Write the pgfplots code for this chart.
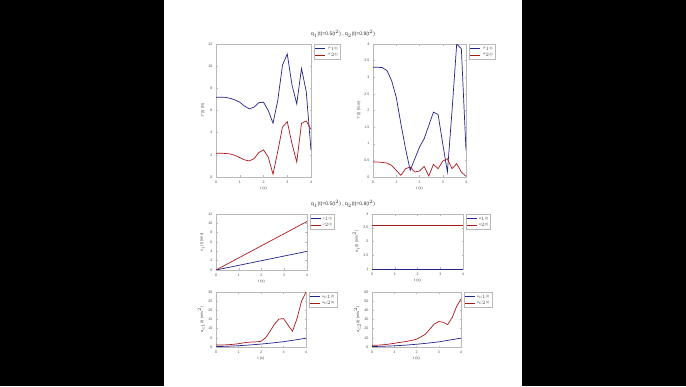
\documentclass[border=0pt]{standalone}
\usepackage{pgfplots}
\pgfplotsset{compat=1.18}
\usepackage{fontspec}
\setmainfont{Liberation Sans}
\definecolor{myblue}{RGB}{35,35,140}
\definecolor{myred}{RGB}{170,25,25}
\pgfplotsset{
  sub/.style={
    scale only axis,
    anchor=south west,
    xmin=0, xmax=4,
    xtick={0,1,2,3,4},
    tick align=inside,
    major tick length=1.5pt,
    axis line style={gray!55},
    every tick/.style={gray!55},
    tick label style={font=\fontsize{3.6}{4}\selectfont, text=gray!60!black},
    label style={font=\fontsize{3.8}{4.5}\selectfont, text=gray!60!black},
    xlabel={t (s)},
    xlabel style={yshift=3pt},
    ylabel style={yshift=-3pt},
    /pgf/number format/assume math mode=true,
    legend style={at={(1.03,1)}, anchor=north west, draw=gray!55,
      font=\fontsize{3.2}{3.6}\selectfont, inner sep=0.6pt, row sep=-1.5pt,
      legend cell align=left, text=gray!60!black},
    legend image code/.code={\draw[#1] (0pt,0pt) -- (10pt,0pt);},
    every axis plot/.append style={line width=0.7pt},
  }
}
\begin{document}
\begin{tikzpicture}
\useasboundingbox (0pt,0pt) rectangle (686pt,386pt);
\fill[black] (0pt,0pt) rectangle (686pt,386pt);
\fill[white] (164pt,0pt) rectangle (522pt,386pt);
\node[font=\fontsize{5}{6}\selectfont, text=black!80] at (343pt,352pt) {q$_1$(t)=0.5(t$^2$) , q$_2$(t)=0.8(t$^2$)};
\node[font=\fontsize{5}{6}\selectfont, text=black!80] at (343pt,182pt) {q$_1$(t)=0.5(t$^2$) , q$_2$(t)=0.8(t$^2$)};

% Plot 1
\begin{axis}[sub, at={(216pt,209pt)}, width=95pt, height=133pt,
  ymin=0, ymax=12, ytick={0,2,...,12}, ylabel={$\tau$(t) (N)}]
\addplot[myblue] coordinates {(0,7.2)(0.2,7.2)(0.4,7.18)(0.6,7.1)(0.8,6.95)(1.0,6.75)(1.2,6.4)(1.4,6.15)(1.6,6.3)(1.8,6.7)(2.0,6.75)(2.2,6.0)(2.4,4.85)(2.6,6.9)(2.8,10.1)(3.0,11.1)(3.2,8.3)(3.4,6.6)(3.6,9.8)(3.8,7.7)(4.0,2.4)};
\addplot[myred] coordinates {(0,2.15)(0.2,2.15)(0.4,2.12)(0.6,2.08)(0.8,1.95)(1.0,1.75)(1.2,1.55)(1.4,1.45)(1.6,1.65)(1.8,2.2)(2.0,2.45)(2.2,1.8)(2.4,0.25)(2.6,2.3)(2.8,4.5)(3.0,5.0)(3.2,3.0)(3.4,1.35)(3.6,4.85)(3.8,5.05)(4.0,4.3)};
\legend{$\tau_1$(t),$\tau_2$(t)}
\end{axis}

% Plot 2
\begin{axis}[sub, at={(373pt,209pt)}, width=93pt, height=133pt,
  ymin=0, ymax=4, ytick={0,0.5,...,4}, ylabel={$\tau$(t) (N.m)},
  yticklabel style={/pgf/number format/fixed}]
\addplot[myblue] coordinates {(0,3.3)(0.2,3.3)(0.4,3.29)(0.6,3.2)(0.8,2.9)(1.0,2.4)(1.2,1.6)(1.4,0.85)(1.6,0.2)(1.8,0.55)(2.0,0.9)(2.2,1.15)(2.4,1.55)(2.6,1.95)(2.8,1.88)(3.0,1.0)(3.2,0.15)(3.4,2.0)(3.6,4.0)(3.8,3.86)(4.0,0.8)};
\addplot[myred] coordinates {(0,0.45)(0.2,0.45)(0.4,0.44)(0.6,0.42)(0.8,0.35)(1.0,0.2)(1.2,0.05)(1.4,0.25)(1.6,0.3)(1.8,0.15)(2.0,0.18)(2.2,0.32)(2.4,0.03)(2.6,0.38)(2.8,0.25)(3.0,0.48)(3.2,0.55)(3.4,0.25)(3.6,0.4)(3.8,0.15)(4.0,0.02)};
\legend{$\tau_1$(t),$\tau_2$(t)}
\end{axis}

% Plot 3
\begin{axis}[sub, at={(216pt,116pt)}, width=91pt, height=56pt,
  ymin=0, ymax=12, ytick={0,2,...,12}, ylabel={v$_i$(t) (m/s)}]
\addplot[myblue] coordinates {(0,0)(4,4)};
\addplot[myred] coordinates {(0,0)(4,10.4)};
\legend{v$_1$(t),v$_2$(t)}
\end{axis}

% Plot 4
\begin{axis}[sub, at={(372pt,117pt)}, width=91pt, height=55pt,
  ymin=1, ymax=3, ytick={1,1.5,...,3}, ylabel={a$_i$(t) (m/s$^2$)},
  yticklabel style={/pgf/number format/fixed}, clip=false]
\addplot[myblue] coordinates {(0,1)(4,1)};
\addplot[myred] coordinates {(0,2.6)(4,2.6)};
\legend{a$_1$(t),a$_2$(t)}
\end{axis}

% Plot 5
\begin{axis}[sub, at={(216pt,39pt)}, width=90pt, height=55pt,
  ymin=0, ymax=30, ytick={0,5,...,30}, ylabel={a$_{c1}$(t) (m/s$^2$)}]
\addplot[myblue] coordinates {(0,0.2)(0.5,0.4)(1,0.7)(1.5,1.1)(2,1.6)(2.5,2.2)(3,2.9)(3.5,3.8)(4,4.8)};
\addplot[myred] coordinates {(0,1.1)(0.2,1.1)(0.4,1.15)(0.6,1.3)(0.8,1.5)(1.0,1.8)(1.2,2.2)(1.4,2.6)(1.6,2.7)(1.8,2.8)(2.0,3.1)(2.2,5.0)(2.4,8.5)(2.6,12.5)(2.8,15.2)(3.0,15.5)(3.2,12.0)(3.4,8.6)(3.6,15.5)(3.8,24.9)(4.0,30)};
\legend{a$_{c1}$(t),a$_{c2}$(t)}
\end{axis}

% Plot 6
\begin{axis}[sub, at={(372pt,39pt)}, width=89pt, height=55pt,
  ymin=0, ymax=60, ytick={0,10,...,60}, ylabel={a$_{c2}$(t) (m/s$^2$)}]
\addplot[myblue] coordinates {(0,0.5)(0.5,0.8)(1,1.3)(1.5,2.0)(2,3.0)(2.5,4.2)(3,5.6)(3.5,7.6)(4,9.7)};
\addplot[myred] coordinates {(0,1.8)(0.2,1.9)(0.4,2.2)(0.6,2.7)(0.8,3.3)(1.0,4.0)(1.2,4.8)(1.4,5.5)(1.6,6.3)(1.8,7.3)(2.0,8.5)(2.2,11.0)(2.4,14.0)(2.6,19.5)(2.8,25.0)(3.0,27.8)(3.2,27.0)(3.4,24.5)(3.6,32.0)(3.8,44.0)(4.0,52.5)};
\legend{a$_{c1}$(t),a$_{c2}$(t)}
\end{axis}
\end{tikzpicture}
\end{document}
